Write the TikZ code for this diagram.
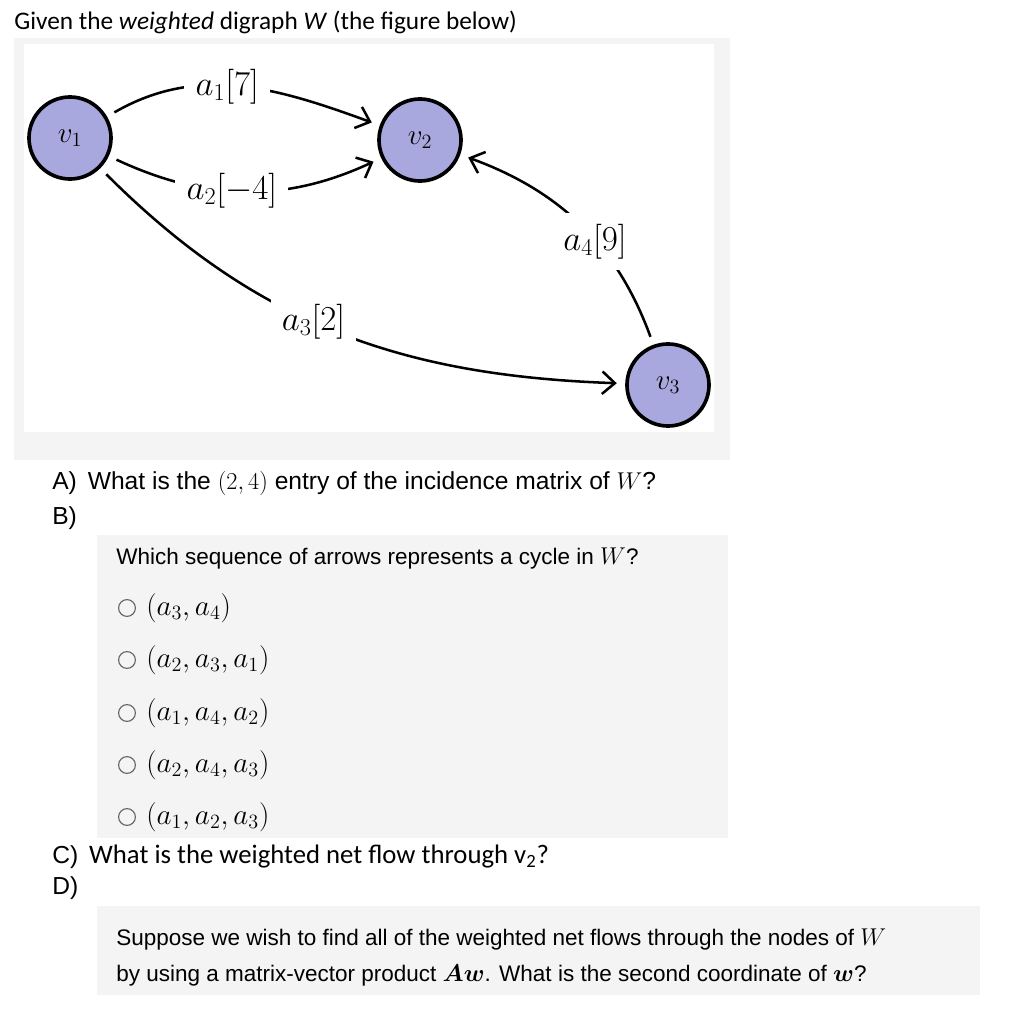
\documentclass[tikz,border=0pt]{standalone}
\usepackage{amsmath,bm}
\usepackage{fontspec}
\setmainfont{Liberation Sans}
\newfontfamily\calib{Carlito}
\usetikzlibrary{arrows.meta}
\definecolor{nodefill}{HTML}{A9A8DE}
\definecolor{boxgray}{HTML}{F4F4F4}
\tikzset{
  vert/.style={circle,draw=black,line width=2.6pt,fill=nodefill,minimum size=2.05cm,inner sep=0pt,font=\fontsize{20}{20}\selectfont},
  edge/.style={line width=1.8pt,-{Straight Barb[length=9pt,width=16pt,line width=1.8pt]},shorten >=6pt,shorten <=6pt},
  elab/.style={fill=white,inner sep=8pt,font=\fontsize{24}{24}\selectfont},
  txt/.style={anchor=west,inner sep=0pt,font=\fontsize{17.5}{20}\selectfont},
  opt/.style={anchor=west,inner sep=0pt,font=\fontsize{16}{20}\selectfont},
  radio/.style={circle,draw=black!60,line width=0.8pt,minimum size=0.42cm,inner sep=0pt}
}
\begin{document}
\begin{tikzpicture}[x=0.025cm,y=-0.025cm]
\useasboundingbox (0,0) rectangle (1014,1024);
\fill[white] (0,0) rectangle (1014,1024);
% title
\node[txt,font=\calib\fontsize{18}{20}\selectfont] (title) at (14,22) {Given the \emph{weighted} digraph \emph{W} (the figure below)};
% graph panel
\fill[boxgray] (14,38) rectangle (730,460);
\fill[white] (24,44) rectangle (714,432);
\node[vert] (v1) at (70,138) {$v_1$};
\node[vert] (v2) at (420,140) {$v_2$};
\node[vert] (v3) at (668,385) {$v_3$};
\draw[edge] (v1) to[out=30,in=160] node[elab,pos=0.45] (l1) {$a_1[7]$} (v2);
\draw[edge] (v1) to[out=-25,in=205] node[elab,pos=0.45] (l2) {$a_2[-4]$} (v2);
\draw[edge] (v1) to[out=-45,in=178] node[elab,pos=0.45] (l3) {$a_3[2]$} (v3);
\draw[edge] (v3) to[out=110,in=-20] node[elab,pos=0.42] (l4) {$a_4[9]$} (v2);
% questions
\node[txt] (qa) at (52,483) {A)\, What is the $(2,4)$ entry of the incidence matrix of $W$?};
\node[txt] (qb) at (52,518) {B)};
\fill[boxgray] (97,535) rectangle (728,838);
\node[opt] (bq) at (116,559) {Which sequence of arrows represents a cycle in $W$?};
\foreach \y/\t [count=\i] in {608/{(a_3,a_4)},660/{(a_2,a_3,a_1)},713/{(a_1,a_4,a_2)},765/{(a_2,a_4,a_3)},817/{(a_1,a_2,a_3)}}{
  \node[radio] (r\i) at (127,\y) {};
  \node[opt,font=\fontsize{20}{20}\selectfont] (o\i) at (146,\y) {$\t$};
}
\node[txt] (qc) at (52,857) {C)\, {\calib\fontsize{19}{20}\selectfont What is the weighted net flow through v\textsubscript{2}?}};
\node[txt] (qd) at (52,888) {D)};
\fill[boxgray] (97,906) rectangle (980,995);
\node[opt] (d1) at (116,940) {Suppose we wish to find all of the weighted net flows through the nodes of $W$};
\node[opt] (d2) at (116,975) {by using a matrix-vector product $\bm{Aw}$. What is the second coordinate of $\bm{w}$?};
\end{tikzpicture}
\end{document}
